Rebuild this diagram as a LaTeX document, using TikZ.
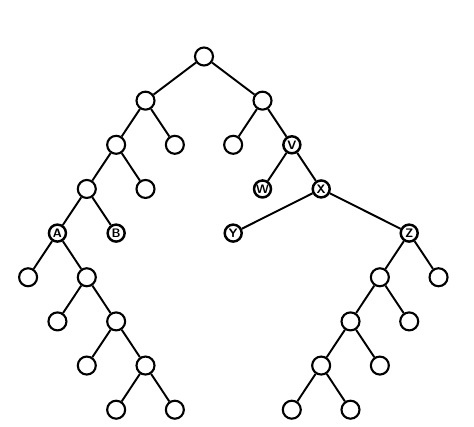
\documentclass[tikz,border=0pt]{standalone}
\usepackage{tikz}
\usetikzlibrary{positioning}

\begin{document}
\begin{tikzpicture}[node distance=0.883cm,
    vertex/.style={circle, draw, line width=1.2pt, minimum size=0.36cm, inner sep=0pt},
    named/.style={vertex, line width=1.4pt, minimum size=0.34cm, font=\sffamily\bfseries\scriptsize},
    link/.style={line width=1.1pt}]
    \useasboundingbox (0,0) rectangle (9.48,-8.52);

    \node [vertex] (root) at (4.08,-1.13) {};
    \node [vertex, below of=root, xshift=-1.17cm] (left) {};
    \node [vertex, below of=root, xshift=1.17cm] (right) {};

    \node [vertex, below of=left, xshift=-0.587cm] (ll) {};
    \node [vertex, below of=left, xshift=0.587cm] (lr) {};
    \node [vertex, below of=right, xshift=-0.587cm] (rl) {};
    \node [named, below of=right, xshift=0.587cm] (v) {V};

    \node [vertex, below of=ll, xshift=-0.587cm] (lll) {};
    \node [vertex, below of=ll, xshift=0.587cm] (llr) {};
    \node [named, below of=v, xshift=-0.587cm] (w) {W};
    \node [named, below of=v, xshift=0.587cm] (x) {X};

    \node [named, below of=lll, xshift=-0.587cm] (a) {A};
    \node [named, below of=lll, xshift=0.587cm] (b) {B};
    \node [named, below of=x, xshift=-1.76cm] (y) {Y};
    \node [named, below of=x, xshift=1.76cm] (z) {Z};

    % left chain below A
    \node [vertex, below of=a, xshift=-0.587cm] (a1) {};
    \node [vertex, below of=a, xshift=0.587cm] (a2) {};
    \node [vertex, below of=a2, xshift=-0.587cm] (a3) {};
    \node [vertex, below of=a2, xshift=0.587cm] (a4) {};
    \node [vertex, below of=a4, xshift=-0.587cm] (a5) {};
    \node [vertex, below of=a4, xshift=0.587cm] (a6) {};
    \node [vertex, below of=a6, xshift=-0.587cm] (a7) {};
    \node [vertex, below of=a6, xshift=0.587cm] (a8) {};

    % right chain below Z
    \node [vertex, below of=z, xshift=-0.587cm] (z1) {};
    \node [vertex, below of=z, xshift=0.587cm] (z2) {};
    \node [vertex, below of=z1, xshift=-0.587cm] (z3) {};
    \node [vertex, below of=z1, xshift=0.587cm] (z4) {};
    \node [vertex, below of=z3, xshift=-0.587cm] (z5) {};
    \node [vertex, below of=z3, xshift=0.587cm] (z6) {};
    \node [vertex, below of=z5, xshift=-0.587cm] (z7) {};
    \node [vertex, below of=z5, xshift=0.587cm] (z8) {};

    \draw[link] (root) -- (left);
    \draw[link] (root) -- (right);
    \draw[link] (left) -- (ll);
    \draw[link] (left) -- (lr);
    \draw[link] (right) -- (rl);
    \draw[link] (right) -- (v);
    \draw[link] (ll) -- (lll);
    \draw[link] (ll) -- (llr);
    \draw[link] (v) -- (w);
    \draw[link] (v) -- (x);
    \draw[link] (lll) -- (a);
    \draw[link] (lll) -- (b);
    \draw[link] (x) -- (y);
    \draw[link] (x) -- (z);
    \draw[link] (a) -- (a1);
    \draw[link] (a) -- (a2);
    \draw[link] (a2) -- (a3);
    \draw[link] (a2) -- (a4);
    \draw[link] (a4) -- (a5);
    \draw[link] (a4) -- (a6);
    \draw[link] (a6) -- (a7);
    \draw[link] (a6) -- (a8);
    \draw[link] (z) -- (z1);
    \draw[link] (z) -- (z2);
    \draw[link] (z1) -- (z3);
    \draw[link] (z1) -- (z4);
    \draw[link] (z3) -- (z5);
    \draw[link] (z3) -- (z6);
    \draw[link] (z5) -- (z7);
    \draw[link] (z5) -- (z8);
\end{tikzpicture}
\end{document}
